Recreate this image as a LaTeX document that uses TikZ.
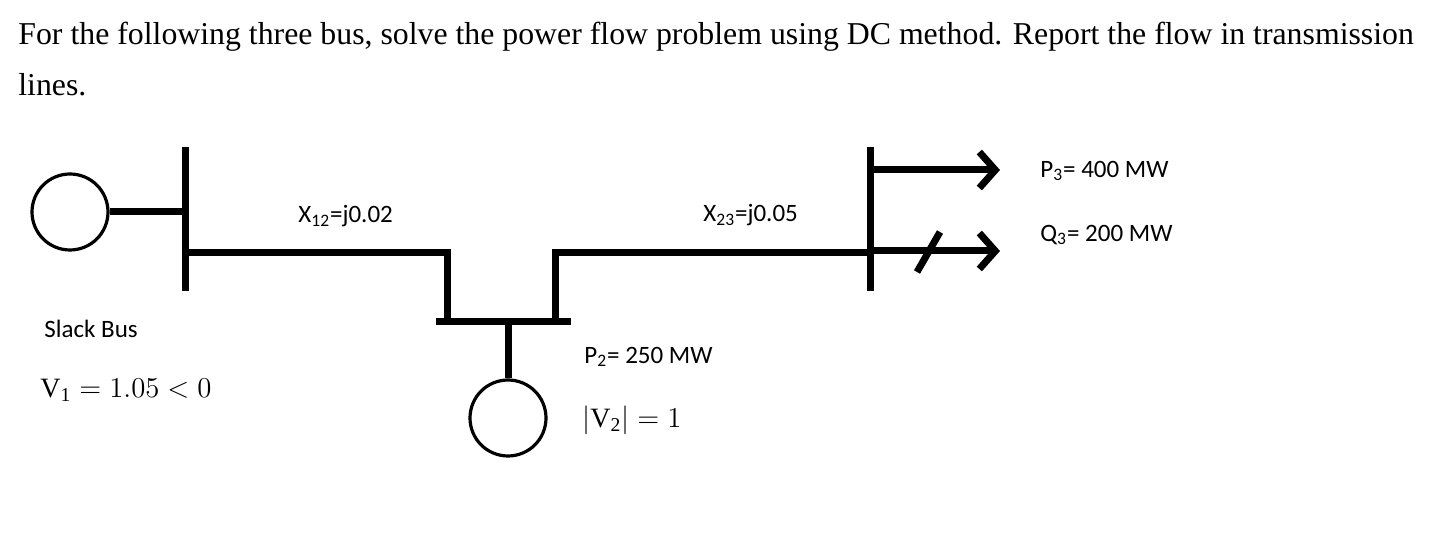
\documentclass[tikz,border=0pt]{standalone}
\usepackage{fontspec}
\setmainfont{Liberation Serif}
\newfontfamily\calib{Carlito}
\usetikzlibrary{arrows.meta,positioning,calc}
\begin{document}
\begin{tikzpicture}[x=0.5pt,y=-0.5pt,
    wire/.style={line width=3.5pt},
    gen/.style={draw,circle,line width=1.6pt,minimum size=38pt,inner sep=0pt},
    lbl/.style={font=\calib\fontsize{12.5}{14}\selectfont,anchor=west,inner sep=0pt},
    arr/.style={wire,-{Straight Barb[length=8pt,width=18pt,line width=3.5pt]}}]
  \useasboundingbox (0,0) rectangle (1452,539);
  \node[anchor=west,inner sep=0pt,font=\fontsize{15.9}{18}\selectfont] (t1) at (18,37) {For the following three bus, solve the power flow problem using DC method. Report the flow in transmission};
  \node[anchor=west,inner sep=0pt,font=\fontsize{15.9}{18}\selectfont] (t2) at (18,85) {lines.};

  % buses
  \coordinate (B1t) at (185,147); \coordinate (B1b) at (185,291);
  \coordinate (B2l) at (436,322); \coordinate (B2r) at (571,322);
  \coordinate (B3t) at (870,147); \coordinate (B3b) at (870,291);
  \draw[wire] (B1t) -- (B1b);
  \draw[wire] (B2l) -- (B2r);
  \draw[wire] (B3t) -- (B3b);

  % generators
  \node[gen] (G1) at (70,212) {};
  \node[gen] (G2) at (508,418) {};
  \draw[wire] (G1.east) -- (185,212);
  \draw[wire] (G2.north) -- (508,322);

  % lines
  \draw[wire] (185,253) -| (447,322);
  \draw[wire] (555,322) |- (870,253);

  % loads
  \coordinate (P3) at (1000,170);
  \coordinate (Q3) at (1000,251);
  \draw[arr] (870,170) -- (P3);
  \draw[arr] (870,251) -- (Q3);
  \draw[wire] (917,272) -- (940,232);

  \node[lbl] (x12) at (298,216) {X\textsubscript{12}=j0.02};
  \node[lbl] (x23) at (703,215) {X\textsubscript{23}=j0.05};
  \node[lbl] (p3) at (1040,171) {P\textsubscript{3}= 400 MW};
  \node[lbl] (q3) at (1040,235) {Q\textsubscript{3}= 200 MW};
  \node[lbl] (sb) at (44,329) {Slack Bus};
  \node[lbl,font=\fontsize{14}{16}\selectfont] (v1) at (40,390) {$\mathrm{V_1} = 1.05 < 0$};
  \node[lbl] (p2) at (584,357) {P\textsubscript{2}= 250 MW};
  \node[lbl,font=\fontsize{14}{16}\selectfont] (v2) at (582,420) {$|\mathrm{V_2}| = 1$};
\end{tikzpicture}
\end{document}
